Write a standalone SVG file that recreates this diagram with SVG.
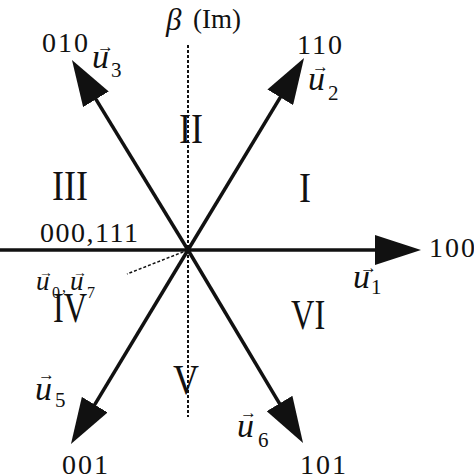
<svg xmlns="http://www.w3.org/2000/svg" width="474" height="474" viewBox="0 0 474 474">
<style>
text{font-family:"Liberation Serif","Times New Roman",serif;fill:#111}
.code{font-size:28px;letter-spacing:2px}
.rom{font-size:36px}
.u{font-size:34px;font-style:italic}
.sub{font-size:21px}
.us{font-size:27px;font-style:italic}
.subs{font-size:16px}
.vec{font-size:17px}
.vecs{font-size:14px}
.ax{stroke:#111;stroke-width:3.5;fill:none}
.dot{stroke:#111;stroke-width:2;stroke-dasharray:3 2;fill:none}
</style>
<defs>
<marker id="head" markerUnits="userSpaceOnUse" markerWidth="46" markerHeight="30" viewBox="0 0 46 30" refX="26" refY="15" orient="auto">
<path d="M0,0 L46,15 L0,30 z" fill="#111"/>
</marker>
</defs>
<rect width="474" height="474" fill="#fff"/>
<g id="connectors">
<line class="dot" x1="188" y1="45" x2="188" y2="417"/>
<line class="dot" x1="188" y1="250" x2="127" y2="274" style="stroke-width:1.5"/>
<line class="ax" x1="0" y1="250" x2="401" y2="250" marker-end="url(#head)"/>
<line class="ax" x1="188" y1="250" x2="293.7" y2="75.1" marker-end="url(#head)"/>
<line class="ax" x1="188" y1="250" x2="82.4" y2="77.1" marker-end="url(#head)"/>
<line class="ax" x1="188" y1="250" x2="81.3" y2="426.9" marker-end="url(#head)"/>
<line class="ax" x1="188" y1="250" x2="292.8" y2="425.8" marker-end="url(#head)"/>
</g>
<g id="axis-label">
<text x="166" y="30" style="font-size:31px;font-style:italic">β</text>
<text x="193" y="28" style="font-size:27px">(Im)</text>
</g>
<g id="u1">
<text x="429" y="257" class="code">100</text>
<text x="360" y="273" class="vec">→</text>
<text x="353" y="288" class="u">u</text>
<text x="371" y="294" class="sub">1</text>
</g>
<g id="u2">
<text x="312" y="72" class="vec">→</text>
<text x="308" y="90" class="u">u</text>
<text x="328" y="100" class="sub">2</text>
<text x="297" y="54" class="code">110</text>
</g>
<g id="u3">
<text x="42" y="52" class="code">010</text>
<text x="97" y="52" class="vec">→</text>
<text x="92" y="68" class="u">u</text>
<text x="111" y="77" class="sub">3</text>
</g>
<g id="u5">
<text x="62" y="474" class="code">001</text>
<text x="38" y="380" class="vec">→</text>
<text x="35" y="400" class="u">u</text>
<text x="55" y="407" class="sub">5</text>
</g>
<g id="u6">
<text x="240" y="418" class="vec">→</text>
<text x="237" y="437" class="u">u</text>
<text x="258" y="447" class="sub">6</text>
<text x="300" y="474" class="code">101</text>
</g>
<g id="u0u7">
<text x="40" y="242" class="code" style="letter-spacing:1.5px">000,111</text>
<text x="39" y="277" class="vecs">→</text>
<text x="36" y="290" class="us">u</text>
<text x="52" y="298" class="subs">0</text>
<text x="62" y="292" class="subs">,</text>
<text x="73" y="277" class="vecs">→</text>
<text x="70" y="290" class="us">u</text>
<text x="87" y="298" class="subs">7</text>
</g>
<g id="sectors">
<text class="rom" transform="translate(299,202) scale(1,1.17)">I</text>
<text class="rom" transform="translate(179,143) scale(1,1.17)">II</text>
<text class="rom" transform="translate(52,200) scale(1,1.17)">III</text>
<text class="rom" transform="translate(53,322) scale(0.9,1.17)">IV</text>
<text class="rom" transform="translate(173,394) scale(1,1.17)">V</text>
<text class="rom" transform="translate(291,329) scale(0.9,1.17)">VI</text>
</g>
</svg>
